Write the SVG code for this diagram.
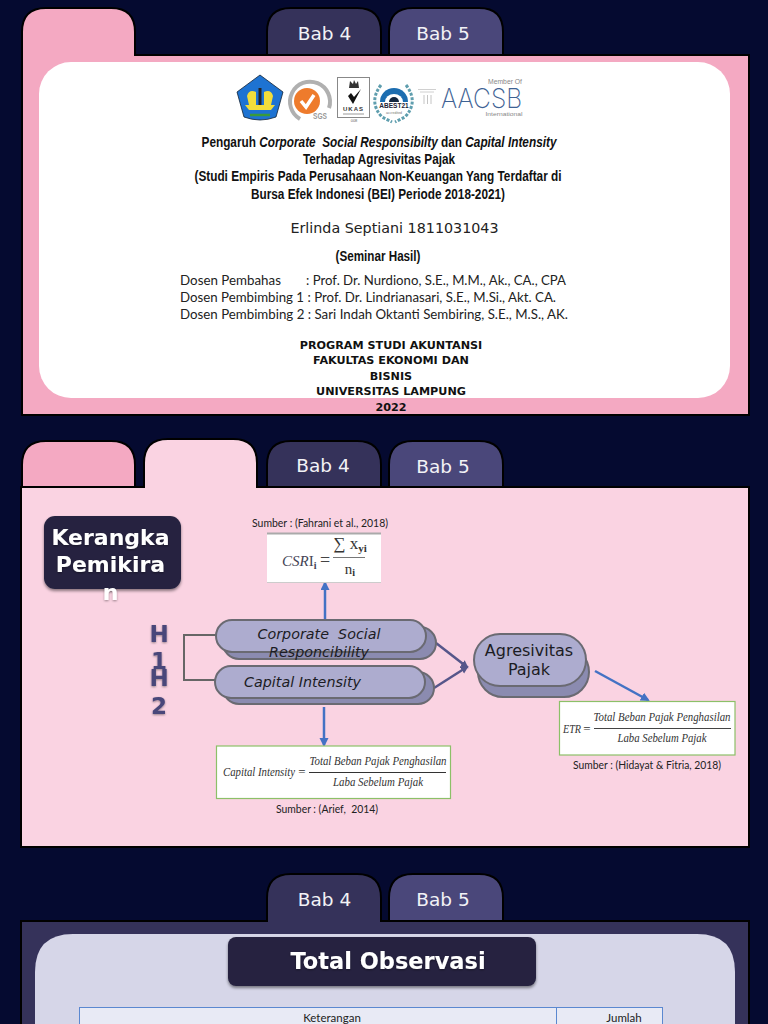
<svg xmlns="http://www.w3.org/2000/svg" width="768" height="1024" viewBox="0 0 768 1024">
<style>
text{white-space:pre}
.tab{stroke:#000;stroke-width:2}
.t4{fill:#35325a}.t5{fill:#4a477a}.pk{fill:#f4a9c2}.lp{fill:#fad3e2}
.bab{font:18.500px "DejaVu Sans",sans-serif;fill:#f2f2f6;text-anchor:middle}
.ln{font:bold 14px "Liberation Sans",sans-serif;fill:#111;text-anchor:middle}
.it{font-style:italic}
.dos{font:14px Lato,"Noto Sans",sans-serif;fill:#222}
.prog{font:bold 11.200px "DejaVu Sans",sans-serif;fill:#111;text-anchor:middle}
.src{font:11px Lato,"Noto Sans",sans-serif;fill:#222;text-anchor:middle}
.pill{fill:#adaccf;stroke:#6a6a72;stroke-width:2}
.pillb{fill:#8b8bb0;stroke:#6a6a72;stroke-width:2}
.pt{font:italic 14.300px "DejaVu Sans",sans-serif;fill:#1c1c24;text-anchor:middle}
.h{font:bold 23px "DejaVu Sans",sans-serif;fill:#4a477a;text-anchor:middle}
.f{font:italic 12px "Liberation Serif",serif;fill:#333;text-anchor:middle}
.fb{fill:#fff;stroke:#8cc068;stroke-width:1.2}
.conn{stroke:#4472c4;stroke-width:2.500;fill:none}
.dk{stroke:#56568a;stroke-width:2.500;fill:none}
.gy{stroke:#666;stroke-width:2;fill:none}
.title{fill:#25233f}
.lg{font-family:"Liberation Sans",sans-serif;text-anchor:middle}
</style>
<defs>
<marker id="ab" markerWidth="10" markerHeight="10" refX="7" refY="4.500" orient="auto" markerUnits="userSpaceOnUse"><path d="M0 0L9 4.500L0 9Z" fill="#4472c4"/></marker>
<marker id="ad" markerWidth="9" markerHeight="9" refX="6" refY="4" orient="auto" markerUnits="userSpaceOnUse"><path d="M0 0L8 4L0 8Z" fill="#56568a"/></marker>
<filter id="sh" x="-10%" y="-10%" width="120%" height="130%"><feDropShadow dx="0" dy="2" stdDeviation="1.500" flood-color="#000" flood-opacity=".45"/></filter>
<filter id="ts" x="-20%" y="-20%" width="140%" height="140%"><feDropShadow dx="0" dy="1" stdDeviation="1" flood-color="#000" flood-opacity=".4"/></filter>
</defs>
<rect width="768" height="1024" fill="#050a30"/>

<g id="slide1">
<path class="tab t4" d="M267 56V32Q267 8 291 8H357Q381 8 381 32V56Z"/>
<path class="tab t5" d="M389 56V32Q389 8 413 8H479Q503 8 503 32V56Z"/>
<text class="bab" x="324.500" y="40">Bab 4</text>
<text class="bab" x="443" y="40">Bab 5</text>
<path class="tab pk" d="M22 415V32Q22 8 46 8H111Q135 8 135 32V55H749V415Z"/>
<rect x="39" y="62" width="691" height="336" rx="32" fill="#fff"/>
<g id="logos">
<path d="M260 75L283 92L276 117Q260 123 244 117L237 92Z" fill="#1e73d2" stroke="#123" stroke-width=".8"/>
<path d="M247 96Q249 89 256 92V105H249ZM273 96Q271 89 264 92V105H271Z" fill="#f2dd3a"/>
<path d="M260 88V106" stroke="#222" stroke-width="3"/>
<path d="M245 105H275L271 110H249Z" fill="#f2dd3a"/>
<path d="M250 115H270" stroke="#3a9a3a" stroke-width="2.500"/>
<path d="M300 119A20 20 0 1 1 329 108" fill="none" stroke="#b0b0b0" stroke-width="4"/>
<circle cx="307" cy="101" r="13" fill="#ee7b2c"/>
<path d="M301 101L306 107L314 95" fill="none" stroke="#fff" stroke-width="3.500"/>
<text class="lg" x="320" y="119" font-size="9" font-weight="bold" fill="#999" textLength="14" lengthAdjust="spacingAndGlyphs">SGS</text>
<rect x="337.500" y="77.500" width="32" height="40" fill="#fff" stroke="#888" stroke-width="1"/>
<path d="M349 88L350 81L353 84L354 80L356 84L358 81L359 88Z" fill="#333"/>
<path d="M348 96L353 104L361 89L354 97L351 93Z" fill="#111"/>
<text class="lg" x="353.500" y="111" font-size="6" font-weight="bold" fill="#333" letter-spacing="1">UKAS</text>
<path d="M343 114H364" stroke="#999"/>
<text class="lg" x="354" y="122" font-size="4" fill="#666">008</text>
<path d="M381 85Q368 102 382 117L392 122M406 85Q419 102 405 117L395 122" fill="none" stroke="#5f9eae" stroke-width="3" stroke-dasharray="3 1.500"/>
<path d="M380 102A14 14 0 0 1 408 102Z" fill="#1c6db0"/>
<path d="M385 102A9 8 0 0 1 403 102Z" fill="#fff"/><path d="M389 102A5 5 0 0 1 399 102Z" fill="#12263f"/>
<text class="lg" x="394" y="108" font-size="6.500" font-weight="bold" fill="#223">ABEST21</text>
<text class="lg" x="394" y="113.500" font-size="3.500" fill="#777">accredited</text>
<path d="M418 89.500H436M420 92H434" stroke="#d0d0d0"/><path d="M424 95V104M427.500 95V104M431 95V104" stroke="#c4c4c4"/>
<text x="441" y="108" font-family="Inter,sans-serif" font-weight="200" font-size="27" fill="#3e6294" textLength="81" lengthAdjust="spacingAndGlyphs">AACSB</text>
<text class="lg" x="505" y="84" font-size="6.500" fill="#888" textLength="34" lengthAdjust="spacingAndGlyphs">Member Of</text>
<text class="lg" x="504" y="115.500" font-size="5.500" fill="#888" textLength="37" lengthAdjust="spacingAndGlyphs">International</text>
</g>
<text class="ln" x="379" y="147" textLength="355" lengthAdjust="spacingAndGlyphs">Pengaruh <tspan class="it">Corporate  Social Responsibilty</tspan> dan <tspan class="it">Capital Intensity</tspan></text>
<text class="ln" x="379" y="164" textLength="152" lengthAdjust="spacingAndGlyphs">Terhadap Agresivitas Pajak</text>
<text class="ln" x="378" y="181" textLength="367" lengthAdjust="spacingAndGlyphs">(Studi Empiris Pada Perusahaan Non-Keuangan Yang Terdaftar di</text>
<text class="ln" x="378" y="199" textLength="254" lengthAdjust="spacingAndGlyphs">Bursa Efek Indonesi (BEI) Periode 2018-2021)</text>
<text x="394.500" y="233" font-family="DejaVu Sans,sans-serif" font-size="14.300" fill="#222" text-anchor="middle">Erlinda Septiani 1811031043</text>
<text class="ln" x="378" y="261" textLength="85" lengthAdjust="spacingAndGlyphs">(Seminar Hasil)</text>
<text class="dos" x="180" y="285" textLength="101" lengthAdjust="spacingAndGlyphs">Dosen Pembahas</text><text class="dos" x="306" y="285" textLength="260" lengthAdjust="spacingAndGlyphs">: Prof. Dr. Nurdiono, S.E., M.M., Ak., CA., CPA</text>
<text class="dos" x="180" y="302" textLength="376" lengthAdjust="spacingAndGlyphs">Dosen Pembimbing 1 : Prof. Dr. Lindrianasari, S.E., M.Si., Akt. CA.</text>
<text class="dos" x="180" y="319" textLength="388" lengthAdjust="spacingAndGlyphs">Dosen Pembimbing 2 : Sari Indah Oktanti Sembiring, S.E., M.S., AK.</text>
<text class="prog" x="391" y="349">PROGRAM STUDI AKUNTANSI</text>
<text class="prog" x="391" y="364">FAKULTAS EKONOMI DAN</text>
<text class="prog" x="391" y="380">BISNIS</text>
<text class="prog" x="391" y="395">UNIVERSITAS LAMPUNG</text>
<text class="prog" x="391" y="411">2022</text>
</g>

<g id="slide2">
<path class="tab t4" d="M267 488V465Q267 441 291 441H357Q381 441 381 465V488Z"/>
<path class="tab t5" d="M389 488V465Q389 441 413 441H479Q503 441 503 465V488Z"/>
<text class="bab" x="323" y="472">Bab 4</text>
<text class="bab" x="443" y="473">Bab 5</text>
<path class="tab pk" d="M22 488V465Q22 441 46 441H111Q135 441 135 465V488Z"/>
<path class="tab lp" d="M21 847V487H144V463Q144 439 168 439H233Q257 439 257 463V487H749V847Z"/>
<g id="kerangka">
<rect x="44" y="516" width="137" height="73" rx="11" class="title" filter="url(#sh)"/>
<g font-family="DejaVu Sans,sans-serif" font-size="22" font-weight="bold" fill="#fff" text-anchor="middle" filter="url(#ts)">
<text x="110.500" y="545">Kerangka</text><text x="110.500" y="572">Pemikira</text><text x="110.500" y="600">n</text></g>
</g>
<g id="connectors">
<path class="conn" d="M325 620V583" marker-end="url(#ab)"/>
<path class="conn" d="M324 707V745" marker-end="url(#ab)"/>
<path class="conn" d="M595 671L648 700" marker-end="url(#ab)"/>
<path class="gy" d="M216 635H184V680H216"/>
<path class="dk" d="M436 643L467 667" marker-end="url(#ad)"/>
<path class="dk" d="M434 688L467 667" marker-end="url(#ad)"/>
</g>
<g id="h-labels" filter="url(#ts)">
<text class="h" x="159" y="642">H</text><text class="h" x="159" y="669">1</text><text class="h" x="159" y="686">H</text><text class="h" x="159" y="714">2</text>
</g>
<g id="csr">
<rect x="223" y="627" width="213" height="32" rx="16" class="pillb"/>
<rect x="216" y="620" width="210" height="32" rx="16" class="pill"/>
<text class="pt" x="319" y="639">Corporate  Social</text>
<text class="pt" x="319" y="657">Responcibility</text>
</g>
<g id="capital">
<rect x="223" y="672" width="211" height="32" rx="16" class="pillb"/>
<rect x="215" y="666" width="210" height="32" rx="16" class="pill"/>
<text class="pt" x="302.500" y="687">Capital Intensity</text>
</g>
<g id="agresivitas">
<rect x="478" y="647" width="111" height="50" rx="25" class="pillb"/>
<rect x="474" y="634" width="112" height="52" rx="26" class="pill"/>
<text x="529" y="656" font-family="DejaVu Sans,sans-serif" font-size="16" fill="#1c1c24" text-anchor="middle">Agresivitas</text>
<text x="529" y="675" font-family="DejaVu Sans,sans-serif" font-size="16" fill="#1c1c24" text-anchor="middle">Pajak</text>
</g>
<g id="f-csr">
<rect x="267" y="533" width="114" height="50" fill="#fff"/>
<path d="M267 533.500H381" stroke="#aaa" stroke-width="2"/><path d="M267 582.500H381" stroke="#ccc"/>
<text x="282" y="566" font-family="Liberation Serif,serif" font-style="italic" font-size="15" fill="#445">CSR<tspan font-style="normal">I</tspan><tspan font-style="normal" font-weight="bold" font-size="10" dy="3">i</tspan></text>
<text x="325" y="566" font-family="Liberation Serif,serif" font-size="18" fill="#444" text-anchor="middle">=</text>
<text x="350" y="549" font-family="Liberation Serif,serif" font-size="17" fill="#333" text-anchor="middle">∑ x<tspan font-size="11" font-weight="bold" dy="3">yi</tspan></text>
<path d="M333 557.500H365" stroke="#777"/>
<text x="350" y="574" font-family="Liberation Serif,serif" font-size="15" fill="#333" text-anchor="middle">n<tspan font-size="10" font-weight="bold" dy="2">i</tspan></text>
</g>
<text class="src" x="320" y="527" textLength="136" lengthAdjust="spacingAndGlyphs">Sumber : (Fahrani et al., 2018)</text>
<g id="f-ci">
<rect x="216.500" y="746" width="234" height="52.500" class="fb"/>
<text class="f" x="259" y="776" textLength="72" lengthAdjust="spacingAndGlyphs">Capital Intensity</text>
<text x="302" y="776" font-family="Liberation Serif,serif" font-size="13" fill="#333" text-anchor="middle">=</text>
<text class="f" x="378" y="765" textLength="137" lengthAdjust="spacingAndGlyphs">Total Beban Pajak Penghasilan</text>
<path d="M309 772.500H446" stroke="#333"/>
<text class="f" x="378" y="786" textLength="90" lengthAdjust="spacingAndGlyphs">Laba Sebelum Pajak</text>
</g>
<text class="src" x="327" y="813" textLength="102" lengthAdjust="spacingAndGlyphs">Sumber : (Arief,  2014)</text>
<g id="f-etr">
<rect x="559.500" y="701.500" width="175.500" height="53.500" class="fb"/>
<text class="f" x="572" y="733" textLength="18" lengthAdjust="spacingAndGlyphs">ETR</text>
<text x="587" y="733" font-family="Liberation Serif,serif" font-size="13" fill="#333" text-anchor="middle">=</text>
<text class="f" x="662" y="721" textLength="137" lengthAdjust="spacingAndGlyphs">Total Beban Pajak Penghasilan</text>
<path d="M594 728.500H731" stroke="#444" stroke-width="1.200"/>
<text class="f" x="662" y="742" textLength="89" lengthAdjust="spacingAndGlyphs">Laba Sebelum Pajak</text>
</g>
<text class="src" x="647" y="769" textLength="148" lengthAdjust="spacingAndGlyphs">Sumber : (Hidayat &amp; Fitria, 2018)</text>
</g>

<g id="slide3">
<path class="tab t5" d="M389 921V898Q389 874 413 874H479Q503 874 503 898V921Z"/>
<path class="tab t4" d="M21 1026V921H267V898Q267 874 291 874H357Q381 874 381 898V921H749V1026Z"/>
<text class="bab" x="324.500" y="906">Bab 4</text>
<text class="bab" x="443" y="906">Bab 5</text>
<path d="M35 1026V972Q35 934 73 934H697Q735 934 735 972V1026Z" fill="#d6d6e8"/>
<g id="total">
<rect x="228" y="937" width="308" height="49" rx="8" class="title" filter="url(#sh)"/>
<text x="388" y="969" font-family="DejaVu Sans,sans-serif" font-size="22.500" font-weight="bold" fill="#fff" text-anchor="middle" filter="url(#ts)">Total Observasi</text>
</g>
<g id="table">
<rect x="79.500" y="1007.500" width="583" height="20" fill="#e8eaf5" stroke="#5b88d0"/>
<path d="M556.500 1007.500V1026" stroke="#5b88d0"/>
<text x="332" y="1022" font-family="Lato,Noto Sans,sans-serif" font-size="11.500" fill="#222" text-anchor="middle">Keterangan</text>
<text x="624" y="1022" font-family="Lato,Noto Sans,sans-serif" font-size="11.500" fill="#222" text-anchor="middle">Jumlah</text>
</g>
</g>
</svg>
